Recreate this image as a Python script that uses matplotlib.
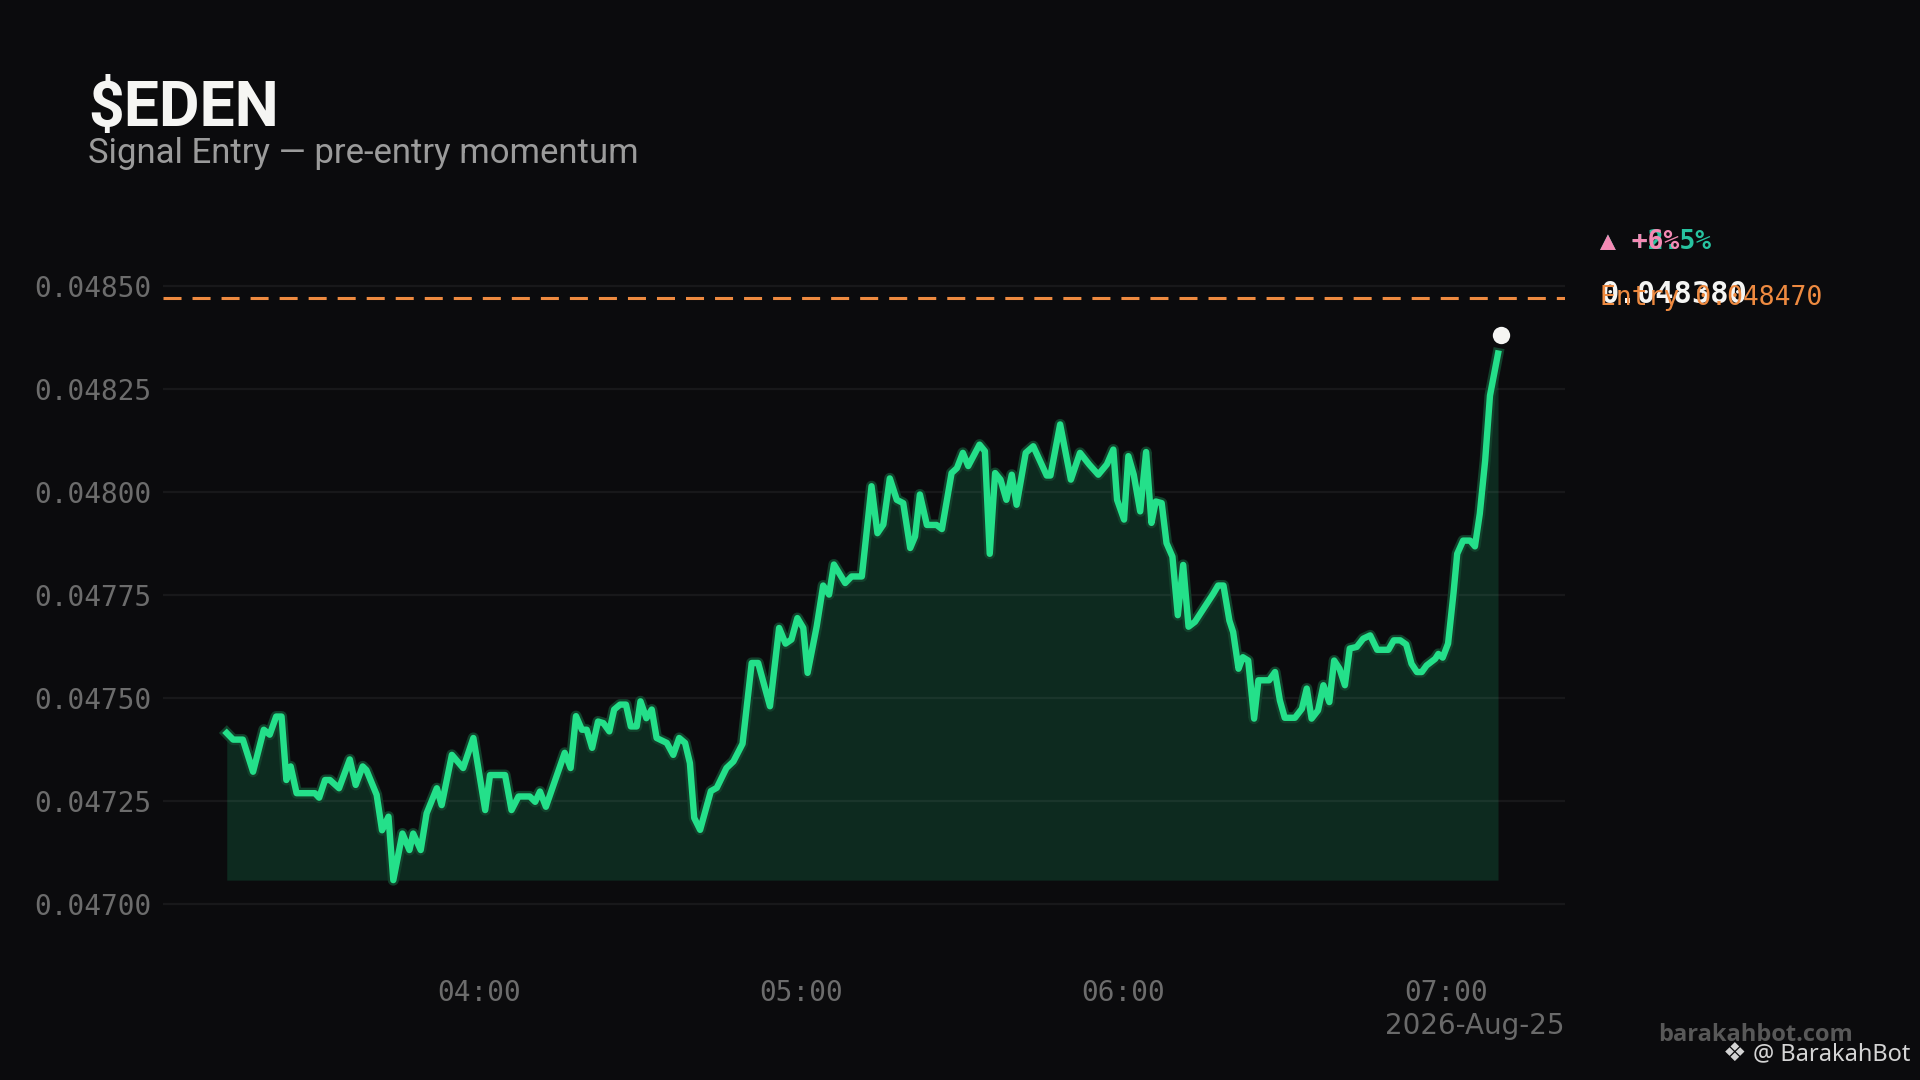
import matplotlib
matplotlib.use("Agg")
import matplotlib.pyplot as plt
import matplotlib.dates as mdates
import pandas as pd

# chart data
ticker = "$EDEN"
subtitle = "Signal Entry — pre-entry momentum"
session_date = "2026-08-25"
date_label = "2026-Aug-25"

# minutes relative to 04:00, price
minutes = [
    -46.9, -45.7, -43.9, -42.0, -40.0, -38.9, -37.7, -36.7, -35.8, -35.0,
    -33.9, -30.5, -29.7, -28.6, -27.7, -26.0, -24.0, -22.9, -21.6, -20.9,
    -19.0, -18.0, -16.8, -15.9, -14.2, -12.9, -12.2, -10.8, -9.7, -7.8,
    -6.9, -5.0, -2.9, -1.0, 1.2, 2.1, 4.9, 6.1, 7.4, 9.5,
    10.5, 11.4, 12.5, 16.0, 17.1, 18.1, 19.2, 20.1, 21.1, 22.2,
    23.2, 24.3, 25.2, 26.3, 27.4, 28.3, 29.4, 30.1, 31.2, 32.2,
    33.1, 35.0, 36.2, 37.3, 38.4, 39.3, 40.1, 41.2, 43.2, 44.3,
    46.1, 47.4, 49.1, 50.8, 52.0, 54.2, 55.9, 57.1, 58.2, 59.3,
    60.4, 61.2, 62.9, 64.1, 65.2, 66.1, 68.2, 69.4, 71.3, 73.1,
    74.2, 75.3, 76.5, 77.8, 79.0, 80.3, 81.2, 82.1, 83.4, 85.2,
    86.2, 88.0, 89.0, 90.1, 91.1, 93.2, 94.2, 95.1, 96.1, 97.1,
    98.2, 99.2, 100.1, 101.8, 103.2, 105.7, 106.4, 108.2, 110.2, 111.9,
    113.6, 115.3, 116.9, 118.1, 118.8, 120.1, 120.9, 121.9, 123.1, 124.2,
    125.2, 126.0, 127.1, 128.0, 129.1, 130.1, 131.1, 132.1, 133.3, 136.7,
    137.6, 138.6, 139.7, 140.4, 141.4, 142.2, 143.2, 144.3, 145.1, 147.1,
    148.2, 149.1, 150.0, 151.9, 153.2, 154.1, 155.0, 156.2, 157.2, 158.3,
    159.2, 160.2, 161.2, 162.1, 163.4, 164.6, 165.9, 167.2, 169.3, 170.3,
    171.5, 172.6, 173.6, 174.6, 175.5, 176.4, 178.0, 178.6, 179.4, 180.4,
    181.4, 182.1, 183.2, 184.5, 185.4, 186.3, 187.3, 188.2, 189.7,
]
prices = [
    0.047415, 0.047399, 0.047399, 0.047321, 0.047423, 0.047411, 0.047455, 0.047455, 0.047301, 0.047334,
    0.047269, 0.047269, 0.047258, 0.047301, 0.047301, 0.047281, 0.047351, 0.047289, 0.047334, 0.047325,
    0.047265, 0.047179, 0.047212, 0.047058, 0.047171, 0.047131, 0.047171, 0.047131, 0.047220, 0.047281,
    0.047240, 0.047362, 0.047330, 0.047403, 0.047228, 0.047313, 0.047313, 0.047228, 0.047261, 0.047261,
    0.047248, 0.047273, 0.047236, 0.047367, 0.047330, 0.047456, 0.047423, 0.047423, 0.047379, 0.047443,
    0.047439, 0.047419, 0.047472, 0.047484, 0.047484, 0.047431, 0.047431, 0.047492, 0.047451, 0.047472,
    0.047403, 0.047391, 0.047362, 0.047403, 0.047391, 0.047342, 0.047209, 0.047180, 0.047274, 0.047282,
    0.047330, 0.047346, 0.047389, 0.047585, 0.047585, 0.047480, 0.047670, 0.047632, 0.047642, 0.047694,
    0.047670, 0.047561, 0.047674, 0.047773, 0.047751, 0.047824, 0.047779, 0.047795, 0.047795, 0.048014,
    0.047900, 0.047921, 0.048033, 0.047981, 0.047973, 0.047864, 0.047892, 0.047994, 0.047920, 0.047920,
    0.047910, 0.048046, 0.048058, 0.048095, 0.048063, 0.048115, 0.048099, 0.047850, 0.048046, 0.048030,
    0.047981, 0.048042, 0.047969, 0.048095, 0.048111, 0.048040, 0.048040, 0.048164, 0.048030, 0.048095,
    0.048067, 0.048042, 0.048067, 0.048103, 0.047981, 0.047933, 0.048087, 0.048042, 0.047953, 0.048097,
    0.047925, 0.047977, 0.047973, 0.047876, 0.047843, 0.047701, 0.047823, 0.047673, 0.047685, 0.047753,
    0.047773, 0.047773, 0.047688, 0.047660, 0.047571, 0.047599, 0.047591, 0.047450, 0.047543, 0.047543,
    0.047563, 0.047494, 0.047452, 0.047452, 0.047474, 0.047523, 0.047450, 0.047470, 0.047531, 0.047490,
    0.047591, 0.047571, 0.047531, 0.047620, 0.047624, 0.047644, 0.047652, 0.047617, 0.047617, 0.047640,
    0.047640, 0.047630, 0.047583, 0.047563, 0.047563, 0.047579, 0.047595, 0.047607, 0.047598, 0.047632,
    0.047753, 0.047850, 0.047882, 0.047882, 0.047868, 0.047947, 0.048076, 0.048234, 0.048336,
]
current_minute = 190.3
current_price = 0.048380
entry_price = 0.048470
change_text = "▲ +6%"
change_text_alt = "▲ +2.5%"
y_ticks = [0.04700, 0.04725, 0.04750, 0.04775, 0.04800, 0.04825, 0.04850]

BG = "#0b0b0d"
GREEN = "#24e08a"
ORANGE = "#ee8a40"

base = pd.Timestamp(session_date + " 04:00")
times = base + pd.to_timedelta(minutes, unit="min")
now = base + pd.to_timedelta(current_minute, unit="min")

fig = plt.figure(figsize=(19.2, 10.8), dpi=100, facecolor=BG)
ax = fig.add_axes([0.0849, 0.1248, 0.7302, 0.6867])
ax.set_facecolor(BG)

ax.fill_between(times, prices, min(prices), color="#0d2a1f", lw=0, zorder=1)
# soft dark halo under the price line
ax.plot(times, prices, color="#12402b", lw=8, solid_joinstyle="round", zorder=3)
ax.plot(times, prices, color=GREEN, lw=4.6, solid_joinstyle="round", zorder=3.1)
ax.plot([now], [current_price], "o", color="#f5f5f3", ms=14, mec=BG, mew=1.5, zorder=5)
ax.axhline(entry_price, color=ORANGE, lw=2.2, ls=(0, (5.9, 3.6)), zorder=4)

ax.margins(x=0.05)
ax.set_ylim(0.04690, 0.04870)
ax.set_yticks(y_ticks)
ax.yaxis.set_major_formatter(plt.FuncFormatter(lambda v, p: f"{v:.5f}"))
ax.xaxis.set_major_locator(mdates.HourLocator())
ax.xaxis.set_major_formatter(mdates.DateFormatter("%H:%M"))

ax.grid(axis="y", color="white", alpha=0.055, lw=1.6)
ax.set_axisbelow(False)
for s in ax.spines.values():
    s.set_visible(False)
ax.tick_params(length=0, colors="#6c6c6c", labelsize=20)
ax.tick_params(axis="y", pad=8)
ax.tick_params(axis="x", pad=24)
for lab in ax.get_xticklabels() + ax.get_yticklabels():
    lab.set_family("DejaVu Sans Mono")

# header
fig.text(0.0458, 0.8833, ticker, color="#f5f5f3", fontsize=45, fontweight="bold",
         family="Roboto", va="baseline")
fig.text(0.0458, 0.849, subtitle, color="#9b9b9b", fontsize=25, family="Roboto",
         va="baseline")

# right side labels (drawn on top of each other, as in the source)
fig.text(0.8333, 0.777, change_text_alt, color="#27c3a0", fontsize=19, fontweight="bold",
         family="DejaVu Sans Mono", va="center")
fig.text(0.8333, 0.777, change_text, color="#f48ab4", fontsize=19, fontweight="bold",
         family="DejaVu Sans Mono", va="center")
fig.text(0.8333, 0.727, f"{current_price:.6f}", color="#f5f5f3", fontsize=22,
         fontweight="bold", family="DejaVu Sans Mono", va="center")
fig.text(0.8333, 0.7245, f"Entry {entry_price:.6f}", color=ORANGE, fontsize=19,
         family="DejaVu Sans Mono", va="center")

fig.text(0.8146, 0.05, date_label, color="#6a6a6a", fontsize=20, ha="right", va="center")
fig.text(0.965, 0.0417, "barakahbot.com", color="#585858", fontsize=17, fontweight="bold",
         family=["Open Sans", "DejaVu Sans"], ha="right", va="center")
fig.text(0.995, 0.024, "@ BarakahBot", color="#d4d4d4", fontsize=17, family="Noto Sans",
         ha="right", va="center")
fig.text(0.9035, 0.024, "❖", color="#d4d4d4", fontsize=19, family="DejaVu Sans",
         ha="center", va="center")

fig.savefig("out.png", dpi=100, facecolor=BG)
